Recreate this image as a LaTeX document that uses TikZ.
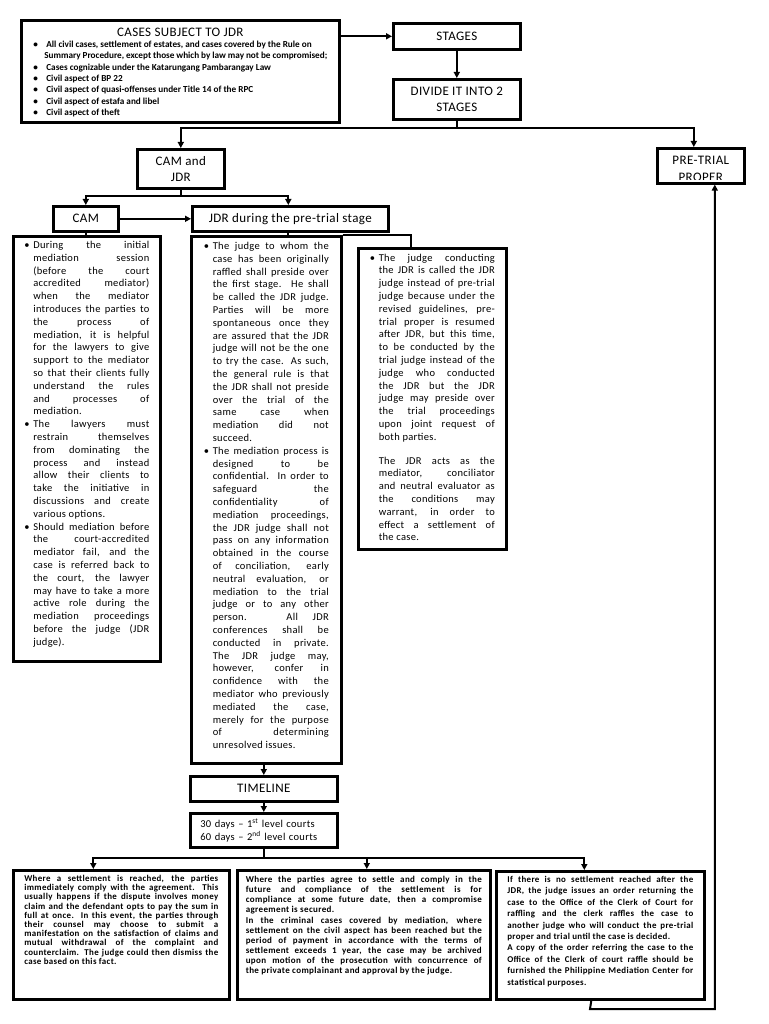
\documentclass[tikz,border=0pt]{standalone}
\usepackage{fontspec}
\setmainfont{Carlito}
\newfontfamily\bodyfont{Carlito}[LetterSpace=3.0]
\newfontfamily\notefont{Carlito}[LetterSpace=4.0]
\newfontfamily\headfont{Carlito}[LetterSpace=3.0]
\usetikzlibrary{arrows.meta}

\hyphenpenalty=10000
\tolerance=9999
\emergencystretch=6pt
\hbadness=10000
\vbadness=10000
\hfuzz=4pt

% bullet paragraph with hanging indent
\newcommand{\bul}[1][9pt]{\par\noindent\hangindent=#1\hangafter=1\makebox[#1][l]{\textbullet}}
% forced, justified line end
\newcommand{\jbr}{\linebreak}
% fixed size text block, text on top
\newcommand{\notebox}[3]{\parbox[c][#2][t]{#1}{#3}}

\begin{document}
\begin{tikzpicture}[x=1pt,y=-1pt,
  box/.style={draw, line width=2.6pt, anchor=north west},
  head/.style={box, inner sep=2pt, align=center, font=\headfont\fontsize{13}{15.5}\selectfont},
  note/.style={box, inner sep=0pt},
  line/.style={line width=2pt},
  arr/.style={line, -{Triangle[length=6pt,width=6pt]}}]

\useasboundingbox (0,0) rectangle (768,1024);
\fill[white] (0,0) rectangle (768,1024);

% top row
\node[note, inner xsep=12pt, inner ysep=7.5pt] (cases) at (20,19) {\notebox{294pt}{87pt}{%
  {\centering\headfont\fontsize{13}{15}\selectfont CASES SUBJECT TO JDR\par}
  \raggedright\normalfont\bfseries\fontsize{9.2}{11.3}\selectfont
  \bul[11pt] All civil cases, settlement of estates, and cases covered by the Rule on\hfil\break
    Summary Procedure, except those which by law may not be compromised;
  \bul[11pt] Cases cognizable under the Katarungang Pambarangay Law
  \bul[11pt] Civil aspect of BP 22
  \bul[11pt] Civil aspect of quasi-offenses under Title 14 of the RPC
  \bul[11pt] Civil aspect of estafa and libel
  \bul[11pt] Civil aspect of theft\par}};
\node[head, minimum width=127pt, minimum height=26pt] (stages) at (392,22) {STAGES};
\node[head, minimum width=127pt, minimum height=40pt] (divide) at (392,78) {DIVIDE IT INTO 2\\STAGES};

% second level
\node[head, minimum width=87pt, minimum height=39pt] (camjdr) at (136,148) {CAM and\\JDR};
\node[box, minimum width=87pt, minimum height=35pt, inner sep=0pt] (pretrial) at (656,147) {};
\begin{scope}
  \clip (pretrial.north west) rectangle ([yshift=5pt]pretrial.south east);
  \node[font=\headfont\fontsize{13}{16.5}\selectfont, align=center] (pretriallabel) at ([yshift=-3pt]pretrial.center) {PRE-TRIAL\\PROPER};
\end{scope}

\node[head, minimum width=65pt, minimum height=25pt] (cam) at (52,205) {CAM};
\node[head, minimum width=196pt, minimum height=25pt] (jdr) at (191,205) {JDR during the pre-trial stage};

% long notes
\node[note, inner xsep=11pt, inner ysep=5pt] (camtext) at (12,235) {\notebox{125pt}{415pt}{%
  \bodyfont\fontsize{10.5}{12.8}\selectfont
  \bul During the initial\jbr mediation session\jbr (before the court\jbr accredited mediator)\jbr
  when the mediator\jbr introduces the parties to\jbr the process of\jbr mediation, it is helpful\jbr
  for the lawyers to give\jbr support to the mediator\jbr so that their clients fully\jbr
  understand the rules\jbr and processes of\jbr mediation.
  \bul The lawyers must\jbr restrain themselves\jbr from dominating the\jbr process and instead\jbr
  allow their clients to\jbr take the initiative in\jbr discussions and create\jbr various options.
  \bul Should mediation before\jbr the court-accredited\jbr mediator fail, and the\jbr
  case is referred back to\jbr the court, the lawyer\jbr may have to take a more\jbr
  active role during the\jbr mediation proceedings\jbr before the judge (JDR\jbr judge).\par}};

\node[note, inner xsep=12.5pt, inner ysep=6pt] (jdrtext) at (190,235) {\notebox{125pt}{515pt}{%
  \bodyfont\fontsize{10.5}{12.8}\selectfont
  \bul The judge to whom the\jbr case has been originally\jbr raffled shall preside over\jbr
  the first stage. He shall\jbr be called the JDR judge.\jbr Parties will be more\jbr
  spontaneous once they\jbr are assured that the JDR\jbr judge will not be the one\jbr
  to try the case. As such,\jbr the general rule is that\jbr the JDR shall not preside\jbr
  over the trial of the\jbr same case when\jbr mediation did not\jbr succeed.
  \bul The mediation process is\jbr designed to be\jbr confidential. In order to\jbr
  safeguard the\jbr confidentiality of\jbr mediation proceedings,\jbr
  the JDR judge shall not\jbr pass on any information\jbr obtained in the course\jbr
  of conciliation, early\jbr neutral evaluation, or\jbr mediation to the trial\jbr
  judge or to any other\jbr person. All JDR\jbr conferences shall be\jbr
  conducted in private.\jbr The JDR judge may,\jbr however, confer in\jbr
  confidence with the\jbr mediator who previously\jbr mediated the case,\jbr
  merely for the purpose\jbr of determining\jbr unresolved issues.\par}};

\node[note, inner xsep=11.5pt, inner ysep=5.5pt] (roletext) at (357,247) {\notebox{125pt}{290pt}{%
  \bodyfont\fontsize{10.5}{12.8}\selectfont
  \bul The judge conducting\jbr the JDR is called the JDR\jbr judge instead of pre-trial\jbr
  judge because under the\jbr revised guidelines, pre-\jbr trial proper is resumed\jbr
  after JDR, but this time,\jbr to be conducted by the\jbr trial judge instead of the\jbr
  judge who conducted\jbr the JDR but the JDR\jbr judge may preside over\jbr
  the trial proceedings\jbr upon joint request of\jbr both parties.\par
  \vspace{11pt}\leftskip=9pt
  The JDR acts as the\jbr mediator, conciliator\jbr and neutral evaluator as\jbr
  the conditions may\jbr warrant, in order to\jbr effect a settlement of\jbr the case.\par}};

% timeline
\node[head, minimum width=147pt, minimum height=25pt] (timeline) at (189,775) {TIMELINE};
\node[head, align=left, text width=127pt, inner xsep=10pt, minimum height=34pt,
  font=\bodyfont\fontsize{10.5}{13}\selectfont] (days) at (189,812)
  {30 days – 1\textsuperscript{st} level courts\\60 days – 2\textsuperscript{nd} level courts};

% outcomes
\node[note, inner xsep=11pt, inner ysep=5pt] (settle) at (12,869) {\notebox{194pt}{119pt}{%
  \notefont\bfseries\fontsize{8.9}{9.2}\selectfont
  Where a settlement is reached, the parties\jbr immediately comply with the agreement. This\jbr
  usually happens if the dispute involves money\jbr claim and the defendant opts to pay the sum in\jbr
  full at once. In this event, the parties through\jbr their counsel may choose to submit a\jbr
  manifestation on the satisfaction of claims and\jbr mutual withdrawal of the complaint and\jbr
  counterclaim. The judge could then dismiss the\jbr case based on this fact.\par}};

\node[note, inner xsep=8.5pt, inner ysep=6pt] (future) at (236,869) {\notebox{236pt}{117pt}{%
  \notefont\bfseries\fontsize{9}{10.1}\selectfont
  Where the parties agree to settle and comply in the\jbr future and compliance of the settlement is for\jbr
  compliance at some future date, then a compromise\jbr agreement is secured.\par
  In the criminal cases covered by mediation, where\jbr settlement on the civil aspect has been reached but the\jbr
  period of payment in accordance with the terms of\jbr settlement exceeds 1 year, the case may be archived\jbr
  upon motion of the prosecution with concurrence of\jbr the private complainant and approval by the judge.\par}};

\node[note, inner xsep=11pt, inner ysep=5pt] (noset) at (495,870) {\notebox{186pt}{118pt}{%
  \notefont\bfseries\fontsize{8.9}{11.4}\selectfont
  If there is no settlement reached after the\jbr JDR, the judge issues an order returning the\jbr
  case to the Office of the Clerk of Court for\jbr raffling and the clerk raffles the case to\jbr
  another judge who will conduct the pre-trial\jbr proper and trial until the case is decided.\par
  A copy of the order referring the case to the\jbr Office of the Clerk of court raffle should be\jbr
  furnished the Philippine Mediation Center for\jbr statistical purposes.\par}};

% connectors
\draw[arr] (cases.east |- stages.west) -- (stages.west);
\draw[arr] (stages) -- (divide);
\coordinate (fork1) at (divide.south |- 0,128);
\draw[line] (divide.south) -- (fork1);
\draw[arr] (fork1) -| (camjdr.north);
\draw[arr] (fork1) -| ([xshift=-7pt]pretrial.north);
\coordinate (fork2) at (camjdr.south |- 0,196);
\draw[line] (camjdr.south) -- (fork2);
\draw[arr] (fork2) -| (cam.north);
\draw[arr] (fork2) -| ([xshift=-2pt]jdr.north);
\draw[arr] (cam) -- (jdr);
\draw[line] (cam.south) -- (cam.south |- camtext.north);
\draw[line] ([xshift=-2pt]jdr.south) -- ([xshift=-2pt]jdr.south |- jdrtext.north);
\coordinate (bend) at (411,235);
\draw[line] (jdrtext.north east) -- (bend) -- (bend |- roletext.north);
\draw[arr] (jdrtext.south -| timeline.north) -- (timeline.north);
\draw[arr] (timeline) -- (days);
\coordinate (fork3) at (days.south |- 0,858);
\draw[line] (days.south) -- (fork3);
\draw[arr] (fork3) -| ([xshift=-28pt]settle.north);
\draw[arr] (fork3) -| ([xshift=3pt]future.north);
\draw[arr] (fork3) -| ([xshift=-16pt]noset.north);
\coordinate (loopend) at (590,1009);
\draw[arr] ([xshift=-9pt]noset.south) -- (loopend) -| ([xshift=14pt]pretrial.south);
\end{tikzpicture}
\end{document}
